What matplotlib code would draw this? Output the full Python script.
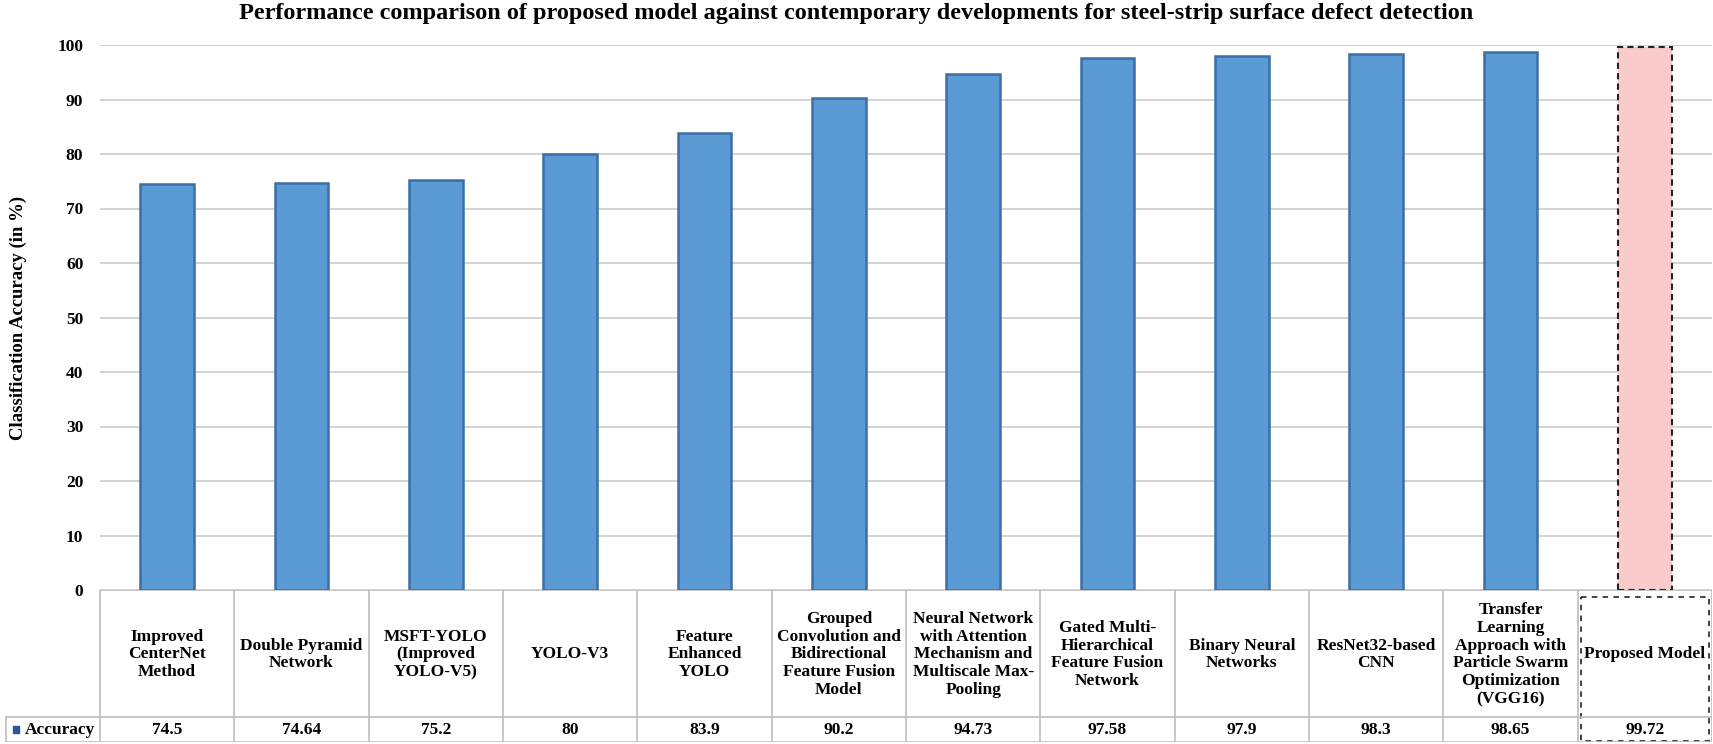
import matplotlib
matplotlib.use("Agg")
import matplotlib.pyplot as plt
from matplotlib.patches import Rectangle

plt.rcParams['font.family'] = ['Liberation Serif', 'DejaVu Serif']
plt.rcParams['font.weight'] = 'bold'

categories = [
    "Improved\nCenterNet\nMethod",
    "Double Pyramid\nNetwork",
    "MSFT-YOLO\n(Improved\nYOLO-V5)",
    "YOLO-V3",
    "Feature\nEnhanced\nYOLO",
    "Grouped\nConvolution and\nBidirectional\nFeature Fusion\nModel",
    "Neural Network\nwith Attention\nMechanism and\nMultiscale Max-\nPooling",
    "Gated Multi-\nHierarchical\nFeature Fusion\nNetwork",
    "Binary Neural\nNetworks",
    "ResNet32-based\nCNN",
    "Transfer\nLearning\nApproach with\nParticle Swarm\nOptimization\n(VGG16)",
    "Proposed Model",
]
accuracy = [74.5, 74.64, 75.2, 80, 83.9, 90.2, 94.73, 97.58, 97.9, 98.3, 98.65, 99.72]
value_labels = ["74.5", "74.64", "75.2", "80", "83.9", "90.2", "94.73", "97.58",
                "97.9", "98.3", "98.65", "99.72"]
yticks = [0, 10, 20, 30, 40, 50, 60, 70, 80, 90, 100]
series_name = "Accuracy"
title = "Performance comparison of proposed model against contemporary developments for steel-strip surface defect detection"
ylabel = "Classification Accuracy (in %)"

W, H = 1713, 744
fig = plt.figure(figsize=(W / 100, H / 100), dpi=100)

# pixel layout
ax_left, ax_right, ax_top, ax_bot = 100, 1712, 45, 590
tab_left, tab_bot = 5, 742
val_top = 717

ax = fig.add_axes([ax_left / W, 1 - ax_bot / H, (ax_right - ax_left) / W, (ax_bot - ax_top) / H])
n = len(categories)
x = list(range(n))
colors = ['#5B9BD5'] * (n - 1) + ['#F9CCCB']
edges = ['#3C6FA6'] * (n - 1) + ['#222222']
bars = ax.bar(x, accuracy, width=0.4, color=colors, edgecolor=edges, linewidth=1.8, zorder=3)
bars[-1].set_linestyle((0, (3, 2)))
bars[-1].set_linewidth(1.5)
ax.set_xlim(-0.5, n - 0.5)
ax.set_ylim(0, 100)
ax.set_yticks(yticks)
ax.set_yticklabels([str(t) for t in yticks], fontsize=12.5, fontweight='bold')
ax.tick_params(axis='y', length=0, pad=12)
ax.set_xticks([])
ax.grid(axis='y', color='#D0D0D0', linewidth=1.3, zorder=0)
for s in ax.spines.values():
    s.set_visible(False)
ax.set_ylabel(ylabel, fontsize=13.5, fontweight='bold')
ax.yaxis.set_label_coords(-(ax_left - 27) / (ax_right - ax_left), 0.5)

fig.text(0.5, 1 - 13 / H, title, ha='center', va='center', fontsize=17.5, fontweight='bold')

# table axes
unit = (ax_right - ax_left) / n
tab = fig.add_axes([tab_left / W, 1 - tab_bot / H, (ax_right - tab_left) / W, (tab_bot - ax_bot) / H])
tab.set_xlim(-0.5 - (ax_left - tab_left) / unit, n - 0.5)
tab.set_ylim(tab_bot - ax_bot, 0)
tab.axis('off')
r_val = val_top - ax_bot
r_end = tab_bot - ax_bot
gc = '#BEBEBE'
lw = 1.2
xl = -0.5 - (ax_left - tab_left) / unit
# horizontal lines
tab.plot([-0.5, n - 0.5], [0, 0], color=gc, lw=lw)
tab.plot([xl, n - 0.5], [r_val, r_val], color=gc, lw=lw)
tab.plot([xl, n - 0.5], [r_end - 0.5, r_end - 0.5], color=gc, lw=lw)
# vertical lines
for i in range(n + 1):
    tab.plot([i - 0.5, i - 0.5], [0, r_end], color=gc, lw=lw)
tab.plot([xl + 0.005, xl + 0.005], [r_val, r_end], color=gc, lw=lw)

for i, (c, v) in enumerate(zip(categories, value_labels)):
    tab.text(i, r_val / 2 + 1, c, ha='center', va='center', fontsize=12.5, fontweight='bold', linespacing=1.15)
    tab.text(i, (r_val + r_end) / 2, v, ha='center', va='center', fontsize=12.5, fontweight='bold')

# series label with legend key
tab.add_patch(Rectangle((xl + 8 / unit, (r_val + r_end) / 2 - 3.5), 6 / unit, 7, color='#2F5597'))
tab.text(xl + 20 / unit, (r_val + r_end) / 2, series_name, ha='left', va='center', fontsize=12.5, fontweight='bold')

# dashed box around the proposed model cell
i = n - 1
tab.add_patch(Rectangle((i - 0.5 + 3 / unit, 7), 1 - 6 / unit, r_end - 8, fill=False,
                        edgecolor='#333333', lw=1.3, linestyle=(0, (3, 3))))

fig.savefig('out.png', dpi=100)
